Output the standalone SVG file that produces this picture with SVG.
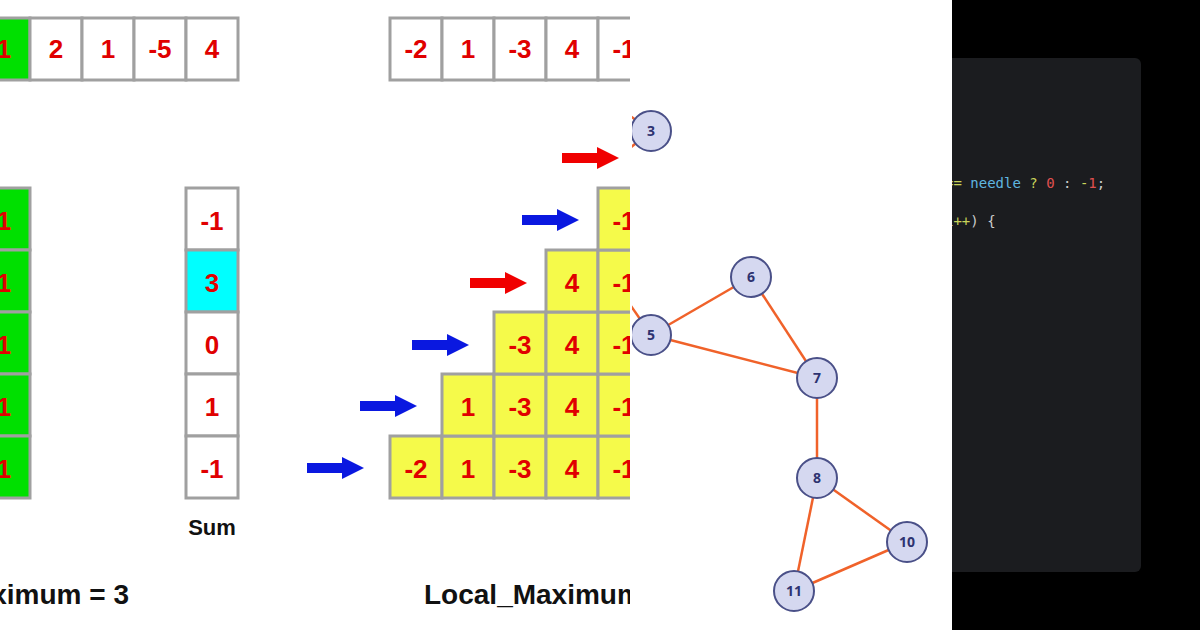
<svg xmlns="http://www.w3.org/2000/svg" width="1200" height="630" viewBox="0 0 1200 630">
<defs>
<style>
.c{stroke:#a0a0a0;stroke-width:3}
.w{fill:#fff}.g{fill:#00e000}.y{fill:#f5fa4a}.cy{fill:#00ffff}
.n{font-family:"Liberation Sans",Arial,sans-serif;font-weight:bold;font-size:26px;fill:#e00000;text-anchor:middle}
.b{font-family:"Liberation Sans",Arial,sans-serif;font-weight:bold;fill:#111}
.e{stroke:#f0622a;stroke-width:2.5}
.nd circle{fill:#d5d8f0;stroke:#4a5088;stroke-width:2}
.nd text{font-family:"Open Sans","DejaVu Sans",sans-serif;font-weight:bold;font-size:14px;fill:#2e3370;text-anchor:middle}
.code{font-family:"DejaVu Sans Mono",monospace;font-size:14px}
</style>
<clipPath id="lp"><rect x="0" y="0" width="630" height="630"/></clipPath>
<clipPath id="gp"><rect x="632" y="0" width="320" height="630"/></clipPath>
<clipPath id="cp"><rect x="952" y="0" width="248" height="630"/></clipPath>
<marker id="ab" viewBox="0 0 10 10" refX="0" refY="5" markerWidth="2.2" markerHeight="2.2" orient="auto"><path d="M0,0L10,5L0,10z" fill="#0a18e0"/></marker>
<marker id="ar" viewBox="0 0 10 10" refX="0" refY="5" markerWidth="2.2" markerHeight="2.2" orient="auto"><path d="M0,0L10,5L0,10z" fill="#f00000"/></marker>
</defs>
<rect width="1200" height="630" fill="#fff"/>
<g id="left" clip-path="url(#lp)">
<g id="top1">
<rect class="c g" x="-22" y="18" width="52" height="62"/><text class="n" x="4" y="58">1</text>
<rect class="c w" x="30" y="18" width="52" height="62"/><text class="n" x="56" y="58">2</text>
<rect class="c w" x="82" y="18" width="52" height="62"/><text class="n" x="108" y="58">1</text>
<rect class="c w" x="134" y="18" width="52" height="62"/><text class="n" x="160" y="58">-5</text>
<rect class="c w" x="186" y="18" width="52" height="62"/><text class="n" x="212" y="58">4</text>
</g>
<g id="top2">
<rect class="c w" x="390" y="18" width="52" height="62"/><text class="n" x="416" y="58">-2</text>
<rect class="c w" x="442" y="18" width="52" height="62"/><text class="n" x="468" y="58">1</text>
<rect class="c w" x="494" y="18" width="52" height="62"/><text class="n" x="520" y="58">-3</text>
<rect class="c w" x="546" y="18" width="52" height="62"/><text class="n" x="572" y="58">4</text>
<rect class="c w" x="598" y="18" width="52" height="62"/><text class="n" x="624" y="58">-1</text>
</g>
<g id="greencol">
<rect class="c g" x="-22" y="188" width="52" height="62"/><text class="n" x="4" y="230">1</text>
<rect class="c g" x="-22" y="250" width="52" height="62"/><text class="n" x="4" y="292">1</text>
<rect class="c g" x="-22" y="312" width="52" height="62"/><text class="n" x="4" y="354">1</text>
<rect class="c g" x="-22" y="374" width="52" height="62"/><text class="n" x="4" y="416">1</text>
<rect class="c g" x="-22" y="436" width="52" height="62"/><text class="n" x="4" y="478">1</text>
</g>
<g id="sumcol">
<rect class="c w" x="186" y="188" width="52" height="62"/><text class="n" x="212" y="230">-1</text>
<rect class="c cy" x="186" y="250" width="52" height="62"/><text class="n" x="212" y="292">3</text>
<rect class="c w" x="186" y="312" width="52" height="62"/><text class="n" x="212" y="354">0</text>
<rect class="c w" x="186" y="374" width="52" height="62"/><text class="n" x="212" y="416">1</text>
<rect class="c w" x="186" y="436" width="52" height="62"/><text class="n" x="212" y="478">-1</text>
</g>
<text class="b" x="212" y="535" font-size="22" text-anchor="middle">Sum</text>
<text class="b" x="129" y="604" font-size="28" text-anchor="end">Maximum = 3</text>
<text class="b" x="424" y="604" font-size="28">Local_Maximum</text>
<g id="stairs">
<rect class="c y" x="390" y="436" width="52" height="62"/><text class="n" x="416" y="478">-2</text>
<rect class="c y" x="442" y="436" width="52" height="62"/><text class="n" x="468" y="478">1</text>
<rect class="c y" x="494" y="436" width="52" height="62"/><text class="n" x="520" y="478">-3</text>
<rect class="c y" x="546" y="436" width="52" height="62"/><text class="n" x="572" y="478">4</text>
<rect class="c y" x="598" y="436" width="52" height="62"/><text class="n" x="624" y="478">-1</text>
<rect class="c y" x="442" y="374" width="52" height="62"/><text class="n" x="468" y="416">1</text>
<rect class="c y" x="494" y="374" width="52" height="62"/><text class="n" x="520" y="416">-3</text>
<rect class="c y" x="546" y="374" width="52" height="62"/><text class="n" x="572" y="416">4</text>
<rect class="c y" x="598" y="374" width="52" height="62"/><text class="n" x="624" y="416">-1</text>
<rect class="c y" x="494" y="312" width="52" height="62"/><text class="n" x="520" y="354">-3</text>
<rect class="c y" x="546" y="312" width="52" height="62"/><text class="n" x="572" y="354">4</text>
<rect class="c y" x="598" y="312" width="52" height="62"/><text class="n" x="624" y="354">-1</text>
<rect class="c y" x="546" y="250" width="52" height="62"/><text class="n" x="572" y="292">4</text>
<rect class="c y" x="598" y="250" width="52" height="62"/><text class="n" x="624" y="292">-1</text>
<rect class="c y" x="598" y="188" width="52" height="62"/><text class="n" x="624" y="230">-1</text>
</g>
<g id="arrows">
<line x1="307" y1="468" x2="342" y2="468" stroke="#0a18e0" stroke-width="10" marker-end="url(#ab)"/>
<line x1="360" y1="406" x2="395" y2="406" stroke="#0a18e0" stroke-width="10" marker-end="url(#ab)"/>
<line x1="412" y1="345" x2="447" y2="345" stroke="#0a18e0" stroke-width="10" marker-end="url(#ab)"/>
<line x1="470" y1="283" x2="505" y2="283" stroke="#f00000" stroke-width="10" marker-end="url(#ar)"/>
<line x1="522" y1="220" x2="557" y2="220" stroke="#0a18e0" stroke-width="10" marker-end="url(#ab)"/>
<line x1="562" y1="158" x2="597" y2="158" stroke="#f00000" stroke-width="10" marker-end="url(#ar)"/>
</g>
</g>
<g id="graph" clip-path="url(#gp)">
<g id="connectors">
<line class="e" x1="651" y1="131" x2="615" y2="105"/>
<line class="e" x1="651" y1="131" x2="615" y2="160"/>
<line class="e" x1="651" y1="335" x2="620" y2="290"/>
<line class="e" x1="651" y1="335" x2="751" y2="277"/>
<line class="e" x1="651" y1="335" x2="817" y2="378"/>
<line class="e" x1="751" y1="277" x2="817" y2="378"/>
<line class="e" x1="817" y1="378" x2="817" y2="478"/>
<line class="e" x1="817" y1="478" x2="907" y2="542"/>
<line class="e" x1="817" y1="478" x2="794" y2="591"/>
<line class="e" x1="907" y1="542" x2="794" y2="591"/>
</g>
<g id="n3" class="nd"><circle cx="651" cy="131" r="20"/><text x="651" y="136">3</text></g>
<g id="n6" class="nd"><circle cx="751" cy="277" r="20"/><text x="751" y="282">6</text></g>
<g id="n5" class="nd"><circle cx="651" cy="335" r="20"/><text x="651" y="340">5</text></g>
<g id="n7" class="nd"><circle cx="817" cy="378" r="20"/><text x="817" y="383">7</text></g>
<g id="n8" class="nd"><circle cx="817" cy="478" r="20"/><text x="817" y="483">8</text></g>
<g id="n10" class="nd"><circle cx="907" cy="542" r="20"/><text x="907" y="547">10</text></g>
<g id="n11" class="nd"><circle cx="794" cy="591" r="20"/><text x="794" y="596">11</text></g>
</g>
<g id="code" clip-path="url(#cp)">
<rect x="952" y="0" width="248" height="630" fill="#000"/>
<rect x="900" y="58" width="241" height="514" rx="6" fill="#1b1c1f"/>
<text class="code" x="945" y="188"><tspan fill="#c9d35a">==</tspan><tspan fill="#5fb6e0"> needle</tspan><tspan fill="#c9d35a"> ?</tspan><tspan fill="#e05050"> 0</tspan><tspan fill="#cccccc"> :</tspan><tspan fill="#c9d35a"> -</tspan><tspan fill="#e05050">1</tspan><tspan fill="#cccccc">;</tspan></text>
<text class="code" x="945" y="226"><tspan fill="#cccccc">i</tspan><tspan fill="#c9d35a">++</tspan><tspan fill="#cccccc">) {</tspan></text>
</g>
</svg>
